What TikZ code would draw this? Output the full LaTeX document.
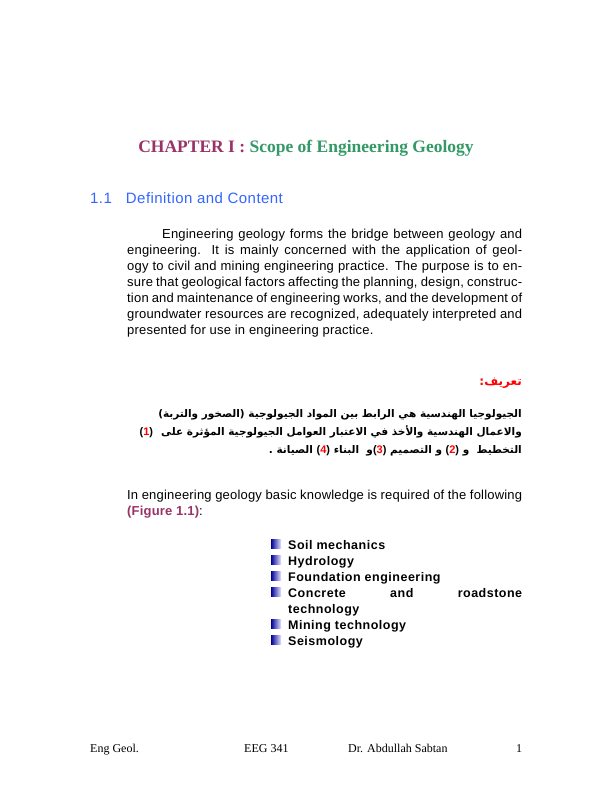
\documentclass[tikz,border=0pt]{standalone}
\usepackage{fontspec}
\setmainfont{Liberation Sans}
\newfontfamily\serif{Liberation Serif}
\newfontfamily\arabicfont[Script=Arabic]{DejaVu Sans}
\TeXXeTstate=1
\definecolor{maroon}{HTML}{993366}
\definecolor{tgreen}{HTML}{339966}
\definecolor{hblue}{HTML}{3366FF}
\tikzset{body/.style={anchor=north west,inner sep=0pt,text width=395pt,align=justify,font=\fontsize{13}{16}\selectfont\addfontfeature{LetterSpace=1.5}},
bul/.style={anchor=base west,inner sep=0pt,font=\bfseries\fontsize{12.5}{16}\selectfont\addfontfeature{LetterSpace=4}},
arab/.style={anchor=base east,inner sep=0pt,font=\arabicfont\bfseries\fontsize{10.5}{18}\selectfont},
foot/.style={anchor=base west,inner sep=0pt,font=\serif\fontsize{12}{14}\selectfont}}
\newcommand{\rn}[1]{{\rmfamily\fontsize{11}{14}\selectfont\bfseries (\textcolor{red}{#1})}}
\newcommand{\nohy}{\hyphenpenalty=10000 \exhyphenpenalty=10000 \relax}
\begin{document}
\begin{tikzpicture}[x=1pt,y=1pt]
\useasboundingbox (0,0) rectangle (612,-792);
\fill[white] (0,0) rectangle (612,-792);
\node[anchor=base,inner sep=0pt,font=\serif\bfseries\fontsize{17.5}{20}\selectfont] (title) at (306,-152) {\color{maroon}CHAPTER I : \color{tgreen}Scope of Engineering Geology};
\node[anchor=base west,inner sep=0pt,font=\fontsize{15}{16}\selectfont\addfontfeature{LetterSpace=3},text=hblue] (h1) at (90,-203) {1.1\hspace{14pt}Definition and Content};
\node[body] (p1) at (127,-229) {\nohy\hspace*{35pt}Engineering geology forms the bridge between geology and engineering. It is mainly concerned with the application of geology to civil and mining engineering practice. The purpose is to ensure that geological factors affecting the planning, design, construction and maintenance of engineering works, and the development of groundwater resources are recognized, adequately interpreted and presented for use in engineering practice.};
\node[anchor=base east,inner sep=0pt,text=red,font=\arabicfont\bfseries\fontsize{12}{14}\selectfont] (tarif) at (522,-385) {\beginR تعريف:\endR};
\node[arab] (ar1) at (522,-417) {\beginR الجيولوجيا الهندسية هي الرابط بين المواد الجيولوجية (الصخور والتربة)\endR};
\node[arab] (ar2) at (522,-435) {\rn{1}\hspace{8pt}\beginR والاعمال الهندسية والأخذ في الاعتبار العوامل الجيولوجية المؤثرة على\endR};
\node[arab] (ar3) at (522,-453) {\beginR الصيانة .\endR\ \rn{4}\ \beginR و\ \ البناء\endR\rn{3}\ \beginR و التصميم\endR\ \rn{2}\ \beginR التخطيط\ \ و\endR};
\node[body] (p2) at (127,-490) {\nohy In engineering geology basic knowledge is required of the following {\bfseries\color{maroon}(Figure 1.1)}:};
\foreach \t/\y [count=\i] in {Soil mechanics/549,Hydrology/565,Foundation engineering/581,Concrete\hfill and\hfill roadstone/597,Mining technology/629,Seismology/645}{
 \shade[left color=blue!60!black,right color=blue!10] (271,-\y+1) rectangle (281,-\y+10);
 \node[bul] (b\i) at (288,-\y) {\makebox[234pt][l]{\t}};
}
\node[bul] (b4b) at (288,-613) {technology};
\node[foot] (f1) at (90,-752) {Eng Geol.};
\node[foot] (f2) at (244,-752) {EEG 341};
\node[foot] (f3) at (348,-752) {Dr. Abdullah Sabtan};
\node[foot] (f4) at (516,-752) {1};
\end{tikzpicture}
\end{document}
